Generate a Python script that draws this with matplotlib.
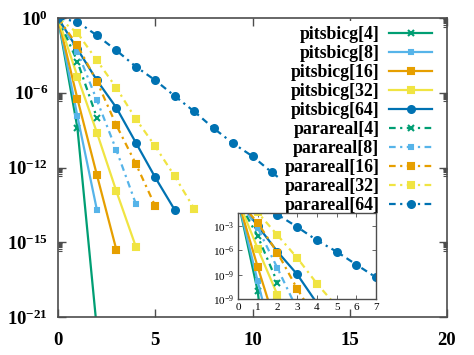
import numpy as np
import matplotlib
matplotlib.use("Agg")
import matplotlib.pyplot as plt
from matplotlib import ticker

# residual history, log10 values
iters_pits4 = [0, 1, 2]
pits4 = [0, -8.85, -25.0]
iters_pits8 = [0, 1, 2]
pits8 = [0, -7.9, -15.4]
iters_pits16 = [0, 1, 2, 3]
pits16 = [0, -6.5, -12.6, -18.6]
iters_pits32 = [0, 1, 2, 3, 4]
pits32 = [0, -4.7, -9.2, -13.9, -18.35]
iters_pits64 = [0, 1, 2, 3, 4, 5, 6]
pits64 = [0, -2.5, -5.0, -7.2, -10.0, -12.8, -15.4]

iters_para4 = [0, 1, 2]
para4 = [0, -3.5, -8.0]
iters_para8 = [0, 1, 2, 3, 4]
para8 = [0, -2.7, -6.6, -10.6, -14.9]
iters_para16 = [0, 1, 2, 3, 4, 5]
para16 = [0, -2.2, -5.1, -8.6, -11.7, -15.1]
iters_para32 = [0, 1, 2, 3, 4, 5, 6, 7]
para32 = [0, -1.2, -3.4, -5.6, -8.1, -10.3, -12.7, -15.3]
iters_para64 = [0, 1, 2, 3, 4, 5, 6, 7, 8, 9, 10, 11, 12, 13]
para64 = [0, -0.3, -1.4, -2.6, -3.9, -5.0, -6.26, -7.5, -8.85, -10.06,
          -11.1, -12.4, -13.6, -14.8]

labels_pits = ["pitsbicg[4]", "pitsbicg[8]", "pitsbicg[16]", "pitsbicg[32]", "pitsbicg[64]"]
labels_para = ["parareal[4]", "parareal[8]", "parareal[16]", "parareal[32]", "parareal[64]"]

main_ytick_exp = [0, -6, -12, -18, -24]
main_ytick_labels = ["0", "-6", "-12", "-15", "-21"]
inset_ytick_exp = [-2.5, -4.85, -7.25, -9.6]
inset_ytick_labels = ["-3", "-6", "-9", "-9"]

colors = ["#009E73", "#56B4E9", "#E69F00", "#F0E442", "#0072B2"]
markers = ["x", "s", "s", "s", "o"]
msizes = [4.5, 3.5, 5, 5, 5]
dashdot = (0, (3, 2, 1, 2))

pits = [(iters_pits4, pits4), (iters_pits8, pits8), (iters_pits16, pits16),
        (iters_pits32, pits32), (iters_pits64, pits64)]
para = [(iters_para4, para4), (iters_para8, para8), (iters_para16, para16),
        (iters_para32, para32), (iters_para64, para64)]

serif = "Liberation Serif"
spine_col = "#4d4d4d"


def draw_series(ax, with_labels):
    for i, (xs, ys) in enumerate(pits):
        ax.plot(xs, 10.0 ** np.array(ys), color=colors[i], lw=1.6, ls="-",
                marker=markers[i], ms=msizes[i], mew=1.5,
                label=labels_pits[i] if with_labels else None)
    for i, (xs, ys) in enumerate(para):
        ax.plot(xs, 10.0 ** np.array(ys), color=colors[i], lw=1.6, ls=dashdot,
                marker=markers[i], ms=msizes[i], mew=1.5,
                label=labels_para[i] if with_labels else None)


fig = plt.figure(figsize=(4.74, 3.55), dpi=100)
ax = fig.add_axes([58 / 474, 1 - 317 / 355, 389 / 474, 299 / 355])
draw_series(ax, True)

ax.set_yscale("log")
ax.set_xlim(0, 20)
ax.set_ylim(1e-24, 1e0)
ax.set_xticks([0, 5, 10, 15, 20])
ax.set_xticklabels(["0", "5", "10", "15", "20"])
ax.set_yticks([10.0 ** e for e in main_ytick_exp])
ax.set_yticklabels([r"$\mathregular{10^{%s}}$" % s for s in main_ytick_labels])
minor = [m * 10.0 ** (e - 1) for e in main_ytick_exp[:-1] for m in range(2, 10)]
ax.yaxis.set_minor_locator(ticker.FixedLocator(minor))
ax.yaxis.set_minor_formatter(ticker.NullFormatter())
ax.xaxis.set_minor_locator(ticker.NullLocator())
ax.tick_params(which="both", direction="in", top=True, right=True, color=spine_col)
ax.tick_params(which="major", length=6, width=1)
ax.tick_params(which="minor", length=3, width=0.8)
ax.tick_params(axis="x", pad=11)
ax.tick_params(axis="y", pad=7)
for lab in ax.get_xticklabels() + ax.get_yticklabels():
    lab.set_fontfamily(serif)
    lab.set_fontweight("bold")
    lab.set_fontsize(13.5)
for sp in ax.spines.values():
    sp.set_color(spine_col)
    sp.set_linewidth(1.2)

leg = ax.legend(loc="upper right", bbox_to_anchor=(0.975, 0.99), markerfirst=False,
                numpoints=1, handlelength=2.4, handletextpad=0.55, labelspacing=0.11,
                borderpad=0.3, borderaxespad=0, frameon=True, fancybox=False,
                prop={"family": serif, "weight": "bold", "size": 12.8})
leg.get_frame().set_facecolor("white")
leg.get_frame().set_edgecolor("none")
leg.get_frame().set_alpha(1)

# zoomed inset
axi = fig.add_axes([238 / 474, 1 - 299 / 355, 138 / 474, 86 / 355])
draw_series(axi, False)
axi.set_yscale("log")
axi.set_xlim(0, 7)
axi.set_ylim(10.0 ** -9.6, 10.0 ** -1.25)
axi.set_xticks(range(8))
axi.set_yticks([10.0 ** e for e in inset_ytick_exp])
axi.set_yticklabels([r"$\mathregular{10^{%s}}$" % s for s in inset_ytick_labels])
axi.yaxis.set_minor_locator(ticker.NullLocator())
axi.tick_params(which="major", direction="in", length=3, width=0.6, pad=3,
                color=spine_col, top=True, right=True)
for lab in axi.get_xticklabels() + axi.get_yticklabels():
    lab.set_fontfamily(serif)
    lab.set_fontsize(8)
for sp in axi.spines.values():
    sp.set_color(spine_col)
    sp.set_linewidth(1.0)
axi.set_facecolor("white")

fig.savefig("out.png", dpi=100)
